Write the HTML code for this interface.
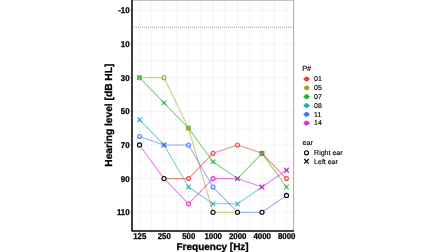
<!DOCTYPE html>
<html><head><meta charset="utf-8"><title>Audiogram</title>
<style>html,body{margin:0;padding:0;background:#fff;width:448px;height:252px;overflow:hidden}</style></head>
<body>
<svg width="448" height="252" viewBox="0 0 448 252" style="position:absolute;left:0;top:0">
<rect width="448" height="252" fill="#fff"/>
<path d="M139.50 0.25V231.1 M151.75 0.25V231.1 M164.00 0.25V231.1 M176.25 0.25V231.1 M188.50 0.25V231.1 M200.75 0.25V231.1 M213.00 0.25V231.1 M225.25 0.25V231.1 M237.50 0.25V231.1 M249.75 0.25V231.1 M262.00 0.25V231.1 M274.25 0.25V231.1 M286.50 0.25V231.1 M132.0 10.35H293.6 M132.0 27.18H293.6 M132.0 44.00H293.6 M132.0 60.83H293.6 M132.0 77.65H293.6 M132.0 94.47H293.6 M132.0 111.30H293.6 M132.0 128.12H293.6 M132.0 144.95H293.6 M132.0 161.78H293.6 M132.0 178.60H293.6 M132.0 195.43H293.6 M132.0 212.25H293.6 M132.0 229.08H293.6" stroke="#ededed" stroke-width="0.6" fill="none"/>
<path d="M132.0 0.25H293.6V231.1" stroke="#b0b0b0" stroke-width="1.1" fill="none"/>
<path d="M134 27.28H292.6" stroke="#7c7c7c" stroke-width="0.8" stroke-dasharray="0.9 1.1" fill="none"/>
<path d="M164.00 178.60 L188.50 178.60 L213.00 153.36 L237.50 144.95 L262.00 153.36 L286.50 178.60" stroke="#EE2020" stroke-width="1.05" stroke-opacity="0.52" fill="none" stroke-linejoin="round"/>
<path d="M139.50 77.65 L164.00 77.65 L188.50 128.12 L213.00 212.25 L237.50 212.25" stroke="#A89000" stroke-width="1.05" stroke-opacity="0.52" fill="none" stroke-linejoin="round"/>
<path d="M139.50 77.65 L164.00 102.89 L188.50 128.12 L213.00 161.78 L237.50 178.60 L262.00 153.36 L286.50 187.01" stroke="#00AA18" stroke-width="1.05" stroke-opacity="0.52" fill="none" stroke-linejoin="round"/>
<path d="M139.50 119.71 L164.00 144.95 L188.50 187.01 L213.00 203.84 L237.50 203.84 L262.00 187.01" stroke="#00A0A8" stroke-width="1.05" stroke-opacity="0.52" fill="none" stroke-linejoin="round"/>
<path d="M139.50 136.54 L164.00 144.95 L188.50 144.95 L213.00 187.01 L237.50 212.25 L262.00 212.25 L286.50 195.43" stroke="#3060FF" stroke-width="1.05" stroke-opacity="0.52" fill="none" stroke-linejoin="round"/>
<path d="M139.50 144.95 L164.00 178.60 L188.50 203.84 L213.00 178.60 L237.50 178.60 L262.00 187.01 L286.50 170.19" stroke="#F000D8" stroke-width="1.05" stroke-opacity="0.52" fill="none" stroke-linejoin="round"/>
<circle cx="188.50" cy="178.60" r="2.0" stroke="#EE2020" stroke-width="1.1" stroke-opacity="0.78" fill="#fcd7d7"/>
<circle cx="213.00" cy="153.36" r="2.0" stroke="#EE2020" stroke-width="1.1" stroke-opacity="0.78" fill="#fcd7d7"/>
<circle cx="237.50" cy="144.95" r="2.0" stroke="#EE2020" stroke-width="1.1" stroke-opacity="0.78" fill="#fcd7d7"/>
<circle cx="262.00" cy="153.36" r="2.0" stroke="#EE2020" stroke-width="1.1" stroke-opacity="0.78" fill="#fcd7d7"/>
<circle cx="286.50" cy="178.60" r="2.0" stroke="#EE2020" stroke-width="1.1" stroke-opacity="0.78" fill="#fcd7d7"/>
<circle cx="139.50" cy="77.65" r="1.9" stroke="#F09A38" stroke-width="1.3" stroke-opacity="0.95" fill="#fceddb"/>
<circle cx="164.00" cy="77.65" r="2.0" stroke="#A89000" stroke-width="1.1" stroke-opacity="0.78" fill="#efebd1"/>
<circle cx="188.50" cy="128.12" r="1.9" stroke="#F09A38" stroke-width="1.3" stroke-opacity="0.95" fill="#fceddb"/>
<path d="M137.20 75.35L141.80 79.95M137.20 79.95L141.80 75.35" stroke="#00AA18" stroke-width="1.15" stroke-opacity="0.78" fill="none"/>
<path d="M161.70 100.59L166.30 105.19M161.70 105.19L166.30 100.59" stroke="#00AA18" stroke-width="1.15" stroke-opacity="0.78" fill="none"/>
<path d="M186.20 125.83L190.80 130.43M186.20 130.43L190.80 125.83" stroke="#00AA18" stroke-width="1.15" stroke-opacity="0.78" fill="none"/>
<path d="M210.70 159.47L215.30 164.08M210.70 164.08L215.30 159.47" stroke="#00AA18" stroke-width="1.15" stroke-opacity="0.78" fill="none"/>
<path d="M235.20 176.30L239.80 180.90M235.20 180.90L239.80 176.30" stroke="#00AA18" stroke-width="1.15" stroke-opacity="0.78" fill="none"/>
<path d="M259.70 151.06L264.30 155.66M259.70 155.66L264.30 151.06" stroke="#00AA18" stroke-width="1.15" stroke-opacity="0.78" fill="none"/>
<path d="M284.20 184.71L288.80 189.31M284.20 189.31L288.80 184.71" stroke="#00AA18" stroke-width="1.15" stroke-opacity="0.78" fill="none"/>
<path d="M137.20 117.41L141.80 122.01M137.20 122.01L141.80 117.41" stroke="#00A0A8" stroke-width="1.15" stroke-opacity="0.78" fill="none"/>
<path d="M161.70 142.65L166.30 147.25M161.70 147.25L166.30 142.65" stroke="#00A0A8" stroke-width="1.15" stroke-opacity="0.78" fill="none"/>
<path d="M186.20 184.71L190.80 189.31M186.20 189.31L190.80 184.71" stroke="#00A0A8" stroke-width="1.15" stroke-opacity="0.78" fill="none"/>
<path d="M210.70 201.54L215.30 206.14M210.70 206.14L215.30 201.54" stroke="#00A0A8" stroke-width="1.15" stroke-opacity="0.78" fill="none"/>
<path d="M235.20 201.54L239.80 206.14M235.20 206.14L239.80 201.54" stroke="#00A0A8" stroke-width="1.15" stroke-opacity="0.78" fill="none"/>
<path d="M259.70 184.71L264.30 189.31M259.70 189.31L264.30 184.71" stroke="#00A0A8" stroke-width="1.15" stroke-opacity="0.78" fill="none"/>
<path d="M284.20 167.89L288.80 172.49M284.20 172.49L288.80 167.89" stroke="#00A0A8" stroke-width="1.15" stroke-opacity="0.78" fill="none"/>
<circle cx="139.50" cy="136.54" r="2.0" stroke="#3060FF" stroke-width="1.1" stroke-opacity="0.78" fill="#dae2ff"/>
<path d="M161.70 142.65L166.30 147.25M161.70 147.25L166.30 142.65" stroke="#3060FF" stroke-width="1.15" stroke-opacity="0.78" fill="none"/>
<circle cx="188.50" cy="144.95" r="2.0" stroke="#3060FF" stroke-width="1.1" stroke-opacity="0.78" fill="#dae2ff"/>
<circle cx="213.00" cy="187.01" r="2.0" stroke="#3060FF" stroke-width="1.1" stroke-opacity="0.78" fill="#dae2ff"/>
<circle cx="188.50" cy="203.84" r="2.0" stroke="#F000D8" stroke-width="1.1" stroke-opacity="0.78" fill="#fcd1f8"/>
<circle cx="213.00" cy="178.60" r="2.0" stroke="#F000D8" stroke-width="1.1" stroke-opacity="0.78" fill="#fcd1f8"/>
<path d="M235.20 176.30L239.80 180.90M235.20 180.90L239.80 176.30" stroke="#F000D8" stroke-width="1.15" stroke-opacity="0.78" fill="none"/>
<path d="M259.70 184.71L264.30 189.31M259.70 189.31L264.30 184.71" stroke="#F000D8" stroke-width="1.15" stroke-opacity="0.78" fill="none"/>
<path d="M284.20 167.89L288.80 172.49M284.20 172.49L288.80 167.89" stroke="#F000D8" stroke-width="1.15" stroke-opacity="0.78" fill="none"/>
<circle cx="139.50" cy="144.95" r="2.05" stroke="#000000" stroke-width="1.1" stroke-opacity="1" fill="#f5f5f5"/>
<circle cx="164.00" cy="178.60" r="2.05" stroke="#000000" stroke-width="1.1" stroke-opacity="1" fill="#f5f5f5"/>
<circle cx="213.00" cy="212.25" r="2.05" stroke="#000000" stroke-width="1.1" stroke-opacity="1" fill="#f5f5f5"/>
<circle cx="237.50" cy="212.25" r="2.05" stroke="#000000" stroke-width="1.1" stroke-opacity="1" fill="#f5f5f5"/>
<circle cx="262.00" cy="212.25" r="2.05" stroke="#000000" stroke-width="1.1" stroke-opacity="1" fill="#f5f5f5"/>
<circle cx="286.50" cy="195.43" r="2.05" stroke="#000000" stroke-width="1.1" stroke-opacity="1" fill="#f5f5f5"/>
<path d="M132.0 0V231.1H293.90000000000003" stroke="#000" stroke-width="1.5" fill="none" stroke-linejoin="round"/>
<path d="M139.50 231.1v1.5 M164.00 231.1v1.5 M188.50 231.1v1.5 M213.00 231.1v1.5 M237.50 231.1v1.5 M262.00 231.1v1.5 M286.50 231.1v1.5 M132.0 10.35h-1.5 M132.0 44.00h-1.5 M132.0 77.65h-1.5 M132.0 111.30h-1.5 M132.0 144.95h-1.5 M132.0 178.60h-1.5 M132.0 212.25h-1.5" stroke="#222" stroke-width="0.6" fill="none"/>
<g font-family="Liberation Sans, sans-serif" font-weight="bold" font-size="8.4" stroke="#000" stroke-width="0.28" fill="#000" style="text-rendering:geometricPrecision">
<text transform="translate(139.70 239.1) scale(0.94 1)" text-anchor="middle">125</text>
<text transform="translate(164.20 239.1) scale(0.94 1)" text-anchor="middle">250</text>
<text transform="translate(188.70 239.1) scale(0.94 1)" text-anchor="middle">500</text>
<text transform="translate(213.20 239.1) scale(0.94 1)" text-anchor="middle">1000</text>
<text transform="translate(237.70 239.1) scale(0.94 1)" text-anchor="middle">2000</text>
<text transform="translate(262.20 239.1) scale(0.94 1)" text-anchor="middle">4000</text>
<text transform="translate(286.70 239.1) scale(0.94 1)" text-anchor="middle">8000</text>
<text transform="translate(129.6 13.45) scale(0.94 1)" text-anchor="end">-10</text>
<text transform="translate(129.6 47.10) scale(0.94 1)" text-anchor="end">10</text>
<text transform="translate(129.6 80.75) scale(0.94 1)" text-anchor="end">30</text>
<text transform="translate(129.6 114.40) scale(0.94 1)" text-anchor="end">50</text>
<text transform="translate(129.6 148.05) scale(0.94 1)" text-anchor="end">70</text>
<text transform="translate(129.6 181.70) scale(0.94 1)" text-anchor="end">90</text>
<text transform="translate(129.6 215.35) scale(0.94 1)" text-anchor="end">110</text>
</g>
<g font-family="Liberation Sans, sans-serif" font-weight="bold" font-size="10.6" fill="#000" stroke="#000" stroke-width="0.3" style="text-rendering:geometricPrecision">
<text x="212.6" y="250.0" text-anchor="middle" font-size="10">Frequency [Hz]</text>
<text transform="translate(112.0 115.2) rotate(-90)" text-anchor="middle" font-size="10.2">Hearing level [dB HL]</text>
</g>
<g font-family="Liberation Sans, sans-serif" font-size="7" fill="#000" stroke="#000" stroke-width="0.15" style="text-rendering:geometricPrecision">
<text x="302.2" y="71" font-size="7.4">P#</text>
<path d="M303.5 79.10h6.2" stroke="#EE2020" stroke-width="1.1" stroke-opacity="0.9"/>
<circle cx="306.6" cy="79.10" r="1.8" fill="#EE2020" fill-opacity="0.6" stroke="#EE2020" stroke-width="1.2" stroke-opacity="0.95"/>
<text x="314.1" y="81.25">01</text>
<path d="M303.5 87.92h6.2" stroke="#A89000" stroke-width="1.1" stroke-opacity="0.9"/>
<circle cx="306.6" cy="87.92" r="1.8" fill="#A89000" fill-opacity="0.6" stroke="#A89000" stroke-width="1.2" stroke-opacity="0.95"/>
<text x="314.1" y="90.07">05</text>
<path d="M303.5 96.74h6.2" stroke="#00AA18" stroke-width="1.1" stroke-opacity="0.9"/>
<circle cx="306.6" cy="96.74" r="1.8" fill="#00AA18" fill-opacity="0.6" stroke="#00AA18" stroke-width="1.2" stroke-opacity="0.95"/>
<text x="314.1" y="98.89">07</text>
<path d="M303.5 105.56h6.2" stroke="#00A0A8" stroke-width="1.1" stroke-opacity="0.9"/>
<circle cx="306.6" cy="105.56" r="1.8" fill="#00A0A8" fill-opacity="0.6" stroke="#00A0A8" stroke-width="1.2" stroke-opacity="0.95"/>
<text x="314.1" y="107.71">08</text>
<path d="M303.5 114.38h6.2" stroke="#3060FF" stroke-width="1.1" stroke-opacity="0.9"/>
<circle cx="306.6" cy="114.38" r="1.8" fill="#3060FF" fill-opacity="0.6" stroke="#3060FF" stroke-width="1.2" stroke-opacity="0.95"/>
<text x="314.1" y="116.53">11</text>
<path d="M303.5 123.20h6.2" stroke="#F000D8" stroke-width="1.1" stroke-opacity="0.9"/>
<circle cx="306.6" cy="123.20" r="1.8" fill="#F000D8" fill-opacity="0.6" stroke="#F000D8" stroke-width="1.2" stroke-opacity="0.95"/>
<text x="314.1" y="125.35">14</text>
<text x="302.4" y="144.9" font-size="7.2">ear</text>
<circle cx="306.50" cy="152.80" r="2.05" stroke="#000000" stroke-width="1.1" stroke-opacity="1" fill="#f5f5f5"/>
<text x="314.1" y="155.45">Right ear</text>
<path d="M304.20 159.00L308.80 163.60M304.20 163.60L308.80 159.00" stroke="#000" stroke-width="1.15" stroke-opacity="1" fill="none"/>
<text x="314.1" y="163.8">Left ear</text>
</g>
</svg>
</body></html>
